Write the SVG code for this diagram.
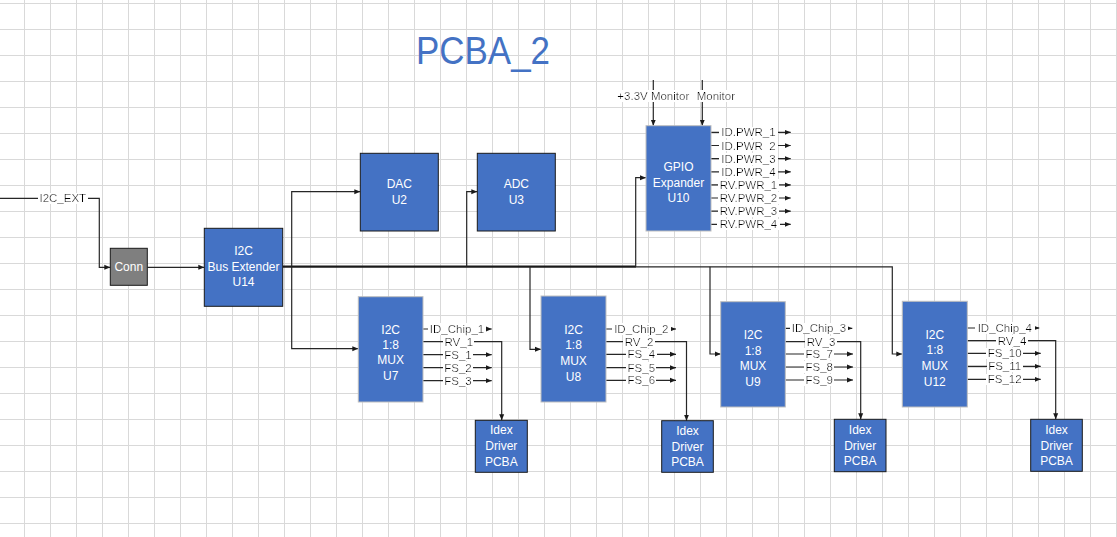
<svg xmlns="http://www.w3.org/2000/svg" width="1117" height="537" viewBox="0 0 1117 537">
<defs>
<pattern id="grid" x="24" y="3" width="26" height="26" patternUnits="userSpaceOnUse">
<path d="M0.5,0 V26 M0,0.5 H26" stroke="#d9d9d9" stroke-width="1" fill="none"/>
</pattern>
<filter id="bg" x="-0.03" y="0.05" width="1.06" height="0.9">
<feFlood flood-color="#ffffff"/>
<feComposite in="SourceGraphic" operator="over"/>
</filter>
<marker id="arr" markerWidth="6" markerHeight="6" refX="6" refY="3" orient="auto" markerUnits="userSpaceOnUse">
<path d="M0,0.5 L6,3 L0,5.5 z" fill="#1a1a1a"/>
</marker>
<style>
.box{fill:#4472C4;stroke:#1a1a1a;stroke-width:1}
.mux{fill:#4472C4;stroke:#bfbfbf;stroke-width:1}
.conn{fill:#7f7f7f;stroke:#1a1a1a;stroke-width:1}
.bt{font-family:"Liberation Sans",Arial,sans-serif;font-size:12px;fill:#ffffff;text-anchor:middle}
.lbl{font-family:"Liberation Sans",Arial,sans-serif;font-size:11.5px;fill:#000000;text-anchor:middle;filter:url(#bg)}
.wa{fill:none;stroke:#262626;stroke-width:1.2;marker-end:url(#arr)}
.bus{fill:none;stroke:#1a1a1a;stroke-width:2.2}
.title{font-family:"Liberation Sans",Arial,sans-serif;font-size:39px;fill:#4472C4}
</style>
</defs>
<rect width="1117" height="537" fill="#ffffff"/>
<rect width="1117" height="537" fill="url(#grid)"/>

<text class="title" x="416" y="63.5" textLength="134" lengthAdjust="spacingAndGlyphs">PCBA_2</text>

<g id="connectors">
<path class="wa" d="M0,198.3 H99.3 V267.3 H110.3"/>
<path class="wa" d="M147.3,267.3 H204.3"/>
<path class="bus" d="M282.7,266.6 H636"/>
<path class="wa" d="M636,266.8 H892.3 V354 H902.3"/>
<path class="wa" d="M291.7,266.7 V191.7 H360.3"/>
<path class="wa" d="M291.7,266.7 V348.7 H358.3"/>
<path class="wa" d="M466.7,266.7 V191.7 H477.3"/>
<path class="wa" d="M635.7,266.7 V177.7 H646"/>
<path class="wa" d="M530,266.7 V349.3 H541"/>
<path class="wa" d="M710,266.7 V354 H720.7"/>
<path class="wa" d="M653.3,80 V125.7"/>
<path class="wa" d="M702.3,80 V125.7"/>
<path class="wa" d="M711,132.3 H790.7"/>
<path class="wa" d="M711,145.5 H790.7"/>
<path class="wa" d="M711,158.6 H790.7"/>
<path class="wa" d="M711,171.8 H790.7"/>
<path class="wa" d="M711,184.9 H790.7"/>
<path class="wa" d="M711,198 H790.7"/>
<path class="wa" d="M711,211.2 H790.7"/>
<path class="wa" d="M711,224.3 H790.7"/>
<path class="wa" d="M423,329 H491.7"/>
<path class="wa" d="M423,341.7 H501.7 V420.3"/>
<path class="wa" d="M423,354.7 H491.7"/>
<path class="wa" d="M423,367.7 H491.7"/>
<path class="wa" d="M423,380.7 H491.7"/>
<path class="wa" d="M606,329 H676"/>
<path class="wa" d="M606,341.7 H686.5 V420.7"/>
<path class="wa" d="M606,354.3 H676"/>
<path class="wa" d="M606,367.7 H676"/>
<path class="wa" d="M606,380.3 H676"/>
<path class="wa" d="M785.3,328.3 H852.3"/>
<path class="wa" d="M785.3,341.7 H860.7 V419.3"/>
<path class="wa" d="M785.3,354 H853"/>
<path class="wa" d="M785.3,367 H853"/>
<path class="wa" d="M785.3,380 H853"/>
<path class="wa" d="M967.3,328 H1039.3"/>
<path class="wa" d="M967.3,340.7 H1055.7 V419.3"/>
<path class="wa" d="M967.3,353.3 H1040.7"/>
<path class="wa" d="M967.3,366.3 H1040.7"/>
<path class="wa" d="M967.3,379.3 H1040.7"/>
</g>

<g id="labels">
<text class="lbl" x="62.8" y="202.4">I2C_EXT</text>
<text class="lbl" x="653.3" y="100.2">+3.3V Monitor</text>
<text class="lbl" x="696.7" y="100.2" style="text-anchor:start">Monitor</text>
<text class="lbl" x="748.5" y="136.4">ID.PWR_1</text>
<text class="lbl" x="748.5" y="149.6">ID.PWR_2</text>
<text class="lbl" x="748.5" y="162.7">ID.PWR_3</text>
<text class="lbl" x="748.5" y="175.9">ID.PWR_4</text>
<text class="lbl" x="748.5" y="189">RV.PWR_1</text>
<text class="lbl" x="748.5" y="202.1">RV.PWR_2</text>
<text class="lbl" x="748.5" y="215.3">RV.PWR_3</text>
<text class="lbl" x="748.5" y="228.4">RV.PWR_4</text>

<text class="lbl" x="457" y="333.1">ID_Chip_1</text>
<text class="lbl" x="458.8" y="345.8">RV_1</text>
<text class="lbl" x="458" y="358.8">FS_1</text>
<text class="lbl" x="458" y="371.8">FS_2</text>
<text class="lbl" x="458" y="384.8">FS_3</text>

<text class="lbl" x="641.3" y="333.1">ID_Chip_2</text>
<text class="lbl" x="639" y="345.8">RV_2</text>
<text class="lbl" x="641.3" y="358.4">FS_4</text>
<text class="lbl" x="641.3" y="371.8">FS_5</text>
<text class="lbl" x="641.3" y="384.4">FS_6</text>

<text class="lbl" x="819" y="332.4">ID_Chip_3</text>
<text class="lbl" x="821" y="345.8">RV_3</text>
<text class="lbl" x="819.2" y="358.1">FS_7</text>
<text class="lbl" x="819.2" y="371.1">FS_8</text>
<text class="lbl" x="819.2" y="384.1">FS_9</text>

<text class="lbl" x="1004.8" y="332.1">ID_Chip_4</text>
<text class="lbl" x="1012" y="344.8">RV_4</text>
<text class="lbl" x="1004.7" y="357.4">FS_10</text>
<text class="lbl" x="1004.7" y="370.4">FS_11</text>
<text class="lbl" x="1004.7" y="383.4">FS_12</text>
</g>

<g id="conn">
<rect class="conn" x="110.3" y="248.3" width="37" height="37"/>
<text class="bt" x="128.8" y="271.2">Conn</text>
</g>
<g id="u14">
<rect class="box" x="204.3" y="228.3" width="78.4" height="78"/>
<text class="bt" x="243.5" y="255.3">I2C</text>
<text class="bt" x="243.5" y="271.3">Bus Extender</text>
<text class="bt" x="243.5" y="286.3">U14</text>
</g>
<g id="u2">
<rect class="box" x="360.3" y="153.3" width="78" height="77.7"/>
<text class="bt" x="399.3" y="188.3">DAC</text>
<text class="bt" x="399.3" y="203.6">U2</text>
</g>
<g id="u3">
<rect class="box" x="477.3" y="153.3" width="78" height="77.7"/>
<text class="bt" x="516.3" y="188.3">ADC</text>
<text class="bt" x="516.3" y="203.6">U3</text>
</g>
<g id="u10">
<rect class="mux" x="646" y="125.7" width="65" height="105.3"/>
<text class="bt" x="678.5" y="171">GPIO</text>
<text class="bt" x="678.5" y="186.6">Expander</text>
<text class="bt" x="678.5" y="201.6">U10</text>
</g>
<g id="u7">
<rect class="mux" x="358.3" y="296.7" width="64.7" height="105.3"/>
<text class="bt" x="390.7" y="333.6">I2C</text>
<text class="bt" x="390.7" y="348.6">1:8</text>
<text class="bt" x="390.7" y="364.3">MUX</text>
<text class="bt" x="390.7" y="380">U7</text>
</g>
<g id="u8">
<rect class="mux" x="541" y="296" width="65" height="106"/>
<text class="bt" x="573.5" y="334.3">I2C</text>
<text class="bt" x="573.5" y="349.3">1:8</text>
<text class="bt" x="573.5" y="365">MUX</text>
<text class="bt" x="573.5" y="381">U8</text>
</g>
<g id="u9">
<rect class="mux" x="720.7" y="301.7" width="64.6" height="105.3"/>
<text class="bt" x="753" y="339.3">I2C</text>
<text class="bt" x="753" y="355">1:8</text>
<text class="bt" x="753" y="370.3">MUX</text>
<text class="bt" x="753" y="386">U9</text>
</g>
<g id="u12">
<rect class="mux" x="902.3" y="301.3" width="65" height="105.7"/>
<text class="bt" x="934.8" y="339.3">I2C</text>
<text class="bt" x="934.8" y="354.3">1:8</text>
<text class="bt" x="934.8" y="370.3">MUX</text>
<text class="bt" x="934.8" y="386">U12</text>
</g>
<g id="idex1">
<rect class="box" x="475.3" y="420.3" width="52" height="52"/>
<text class="bt" x="501.3" y="434.3">Idex</text>
<text class="bt" x="501.3" y="450.3">Driver</text>
<text class="bt" x="501.3" y="465.6">PCBA</text>
</g>
<g id="idex2">
<rect class="box" x="661.7" y="420.7" width="51.6" height="51.6"/>
<text class="bt" x="687.5" y="434.6">Idex</text>
<text class="bt" x="687.5" y="450.6">Driver</text>
<text class="bt" x="687.5" y="465.9">PCBA</text>
</g>
<g id="idex3">
<rect class="box" x="834.3" y="419.3" width="51.7" height="52.4"/>
<text class="bt" x="860.2" y="433.6">Idex</text>
<text class="bt" x="860.2" y="449.6">Driver</text>
<text class="bt" x="860.2" y="464.9">PCBA</text>
</g>
<g id="idex4">
<rect class="box" x="1030.7" y="419.3" width="51.6" height="52"/>
<text class="bt" x="1056.5" y="433.6">Idex</text>
<text class="bt" x="1056.5" y="449.6">Driver</text>
<text class="bt" x="1056.5" y="464.9">PCBA</text>
</g>
</svg>
